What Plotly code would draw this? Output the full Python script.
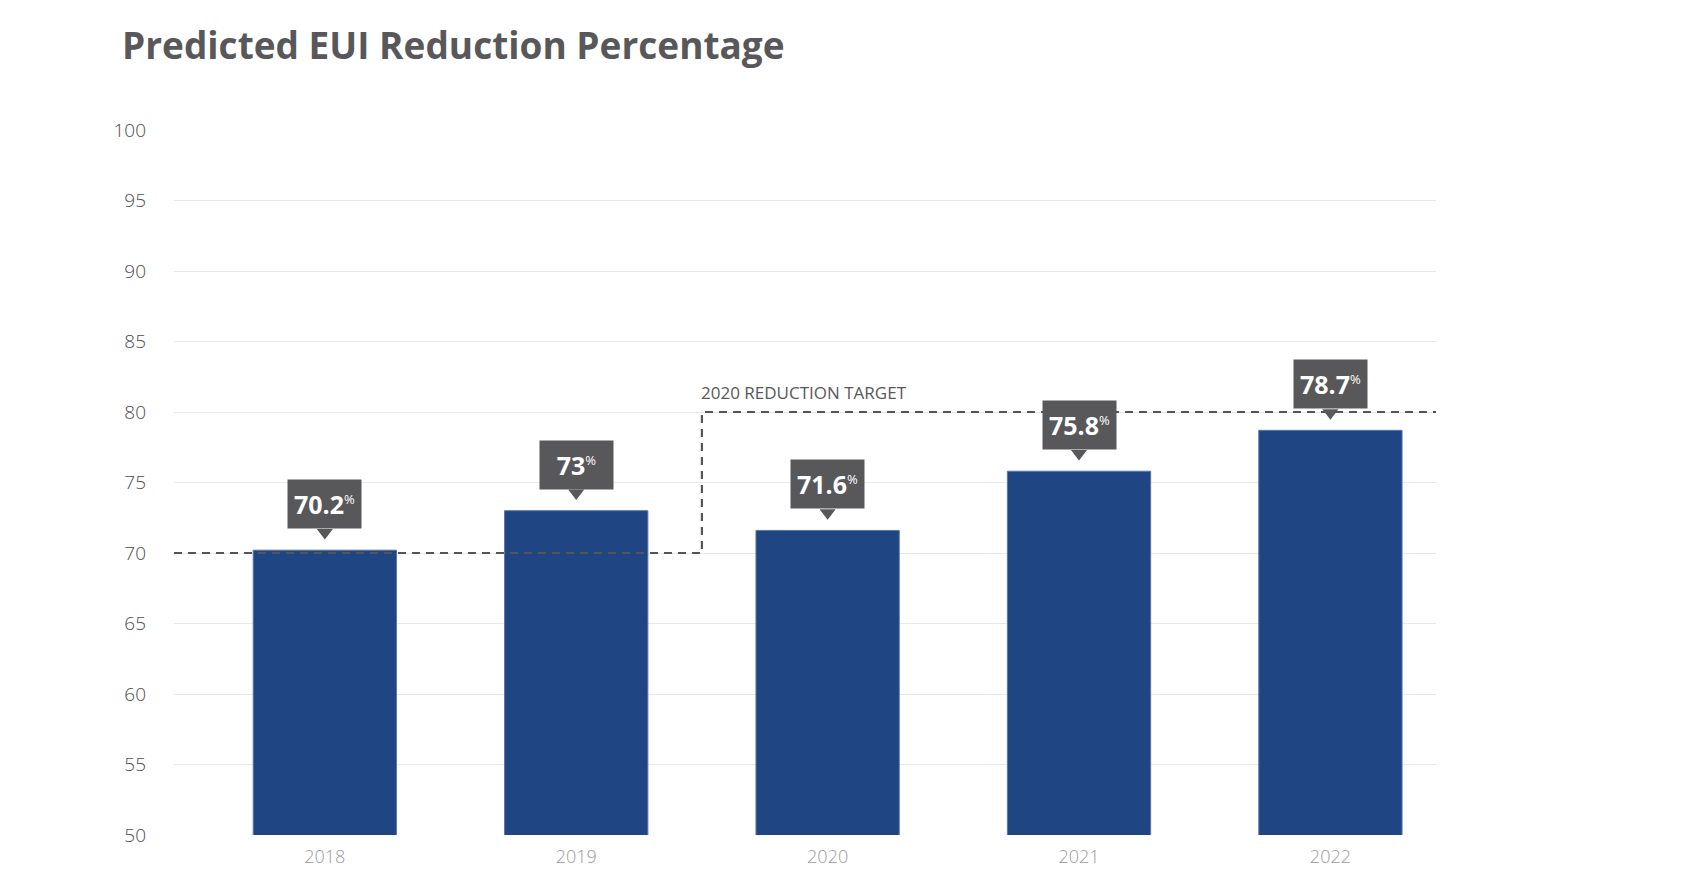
import plotly.graph_objects as go

years = ["2018", "2019", "2020", "2021", "2022"]
reduction = [70.2, 73.0, 71.6, 75.8, 78.7]
value_labels = ["70.2", "73", "71.6", "75.8", "78.7"]

# reduction target steps up from 70 to 80 starting with 2020
target_before = 70
target_after = 80
target_start_year = "2020"
target_label = "2020 REDUCTION TARGET"

y_ticks = [50, 55, 60, 65, 70, 75, 80, 85, 90, 95, 100]

BAR_COLOR = "#1f4583"
BOX_COLOR = "#58585a"
TEXT_DARK = "#58585a"
FONT = "Open Sans"

x_idx = list(range(len(years)))
x_range = [-0.6, len(years) - 0.58]
step = years.index(target_start_year) - 0.5

fig = go.Figure()

fig.add_trace(go.Bar(
    x=x_idx, y=reduction,
    marker=dict(color=BAR_COLOR, line=dict(color="#5a76a8", width=1)),
    width=0.57, hoverinfo="skip", showlegend=False,
))

# dashed target line
fig.add_trace(go.Scatter(
    x=[x_range[0], step, step, x_range[1]],
    y=[target_before, target_before, target_after, target_after],
    mode="lines", line=dict(color="#555557", width=2.2, dash="8px,6px"),
    hoverinfo="skip", showlegend=False, cliponaxis=False,
))

# pointer triangles under the value boxes
fig.add_trace(go.Scatter(
    x=x_idx, y=[v + 1.25 for v in reduction],
    mode="markers",
    marker=dict(symbol="triangle-down", size=14, color=BOX_COLOR, line=dict(width=0)),
    hoverinfo="skip", showlegend=False,
))

for i, (v, lab) in enumerate(zip(reduction, value_labels)):
    fig.add_annotation(
        x=i, y=v, xref="x", yref="y",
        text=f"<b>{lab}</b><sup><span style='font-size:13px'>%</span></sup>",
        showarrow=False, yanchor="bottom", yshift=21,
        width=73, height=48, bgcolor=BOX_COLOR, borderpad=0,
        font=dict(family=FONT, size=25, color="white"),
    )

fig.add_annotation(
    x=step, y=target_after, xref="x", yref="y",
    text=target_label, showarrow=False, xanchor="left", yanchor="bottom",
    xshift=-3, yshift=6,
    font=dict(family=FONT, size=17, color=TEXT_DARK, weight=500),
)

# page body has an 8px margin, positions below compensate for it
fig.update_layout(
    width=1704, height=880,
    paper_bgcolor="white", plot_bgcolor="white",
    margin=dict(l=166, r=276, t=122, b=53),
    title=dict(
        text="<b>Predicted EUI Reduction Percentage</b>",
        x=114 / 1704, xref="container", xanchor="left",
        y=1 - 38 / 880, yref="container", yanchor="middle",
        font=dict(family=FONT, size=37, color=TEXT_DARK),
    ),
    xaxis=dict(
        tickmode="array", tickvals=x_idx, ticktext=years,
        range=x_range,
        showgrid=False, zeroline=False, showline=False,
        ticks="", ticklabelstandoff=9,
        tickfont=dict(family=FONT, size=18, color="#9a9a9a", weight=300),
    ),
    yaxis=dict(
        range=[50, 100], tickmode="array", tickvals=y_ticks,
        showgrid=True, gridcolor="#e8e8e8", gridwidth=1,
        zeroline=False, showline=False, ticks="",
        ticklabelstandoff=27,
        tickfont=dict(family=FONT, size=19, color="#4d4d4f", weight=300),
    ),
)

fig.write_html("out.html")
